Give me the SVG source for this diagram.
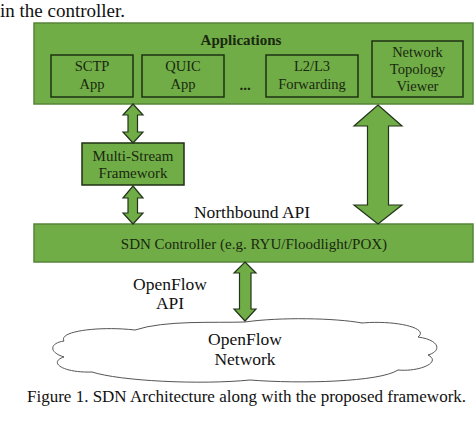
<svg xmlns="http://www.w3.org/2000/svg" width="474" height="424" viewBox="0 0 474 424">
<style>
  text { font-family: "Liberation Serif", "DejaVu Serif", serif; fill: #111; }
  .big { fill: #70ad47; stroke: #55843a; stroke-width: 1.5; }
  .box { fill: #70ad47; stroke: #1e3113; stroke-width: 1.5; }
  .arrow { fill: #70ad47; stroke: #22351a; stroke-width: 1.2; stroke-linejoin: miter; }
  .lbl { font-size: 14.5px; text-anchor: middle; fill: #1a2810; }
  .ext { font-size: 17.5px; text-anchor: middle; }
  .cloud { fill: #ffffff; stroke: #555; stroke-width: 1; }
</style>
<rect width="474" height="424" fill="#ffffff"/>

<g font-family="Liberation Serif, DejaVu Serif, serif">
<text x="0" y="17" style="font-size:19px">in the controller.</text>

<g id="applications">
  <rect class="big" x="34" y="23" width="439" height="81"/>
  <text x="241" y="45" style="font-size:15px;font-weight:bold;text-anchor:middle;fill:#1a2810">Applications</text>
  <text x="245" y="90" style="font-size:15px;font-weight:bold;text-anchor:middle;fill:#1a2810">...</text>
</g>
<g id="sctp-app">
  <rect class="box" x="51" y="55" width="82" height="42"/>
  <text class="lbl" x="92" y="71">SCTP</text>
  <text class="lbl" x="92" y="89">App</text>
</g>
<g id="quic-app">
  <rect class="box" x="142" y="55" width="82" height="42"/>
  <text class="lbl" x="183" y="71">QUIC</text>
  <text class="lbl" x="183" y="89">App</text>
</g>
<g id="l2l3-forwarding">
  <rect class="box" x="266" y="55" width="92" height="42"/>
  <text class="lbl" x="312" y="71">L2/L3</text>
  <text class="lbl" x="312" y="89">Forwarding</text>
</g>
<g id="network-topology-viewer">
  <rect class="box" x="372" y="41" width="91" height="56"/>
  <text class="lbl" x="417.5" y="57">Network</text>
  <text class="lbl" x="417.5" y="74">Topology</text>
  <text class="lbl" x="417.5" y="91">Viewer</text>
</g>
<g id="multi-stream-framework">
  <rect class="box" x="82" y="143" width="102" height="42"/>
  <text class="lbl" x="133" y="160.5" style="font-size:15px">Multi-Stream</text>
  <text class="lbl" x="133" y="178" style="font-size:15px">Framework</text>
</g>
<g id="sdn-controller">
  <rect class="big" x="34" y="224" width="439" height="38"/>
  <text x="254" y="249" style="font-size:15px;text-anchor:middle;fill:#1a2810">SDN Controller (e.g. RYU/Floodlight/POX)</text>
</g>
<g id="openflow-network">
  <path class="cloud" d="M 64,341 C 58,331 100,326 135,330 C 165,320 215,323 245,322 C 280,317 335,318 362,323 C 395,320 430,328 418,337 C 440,340 442,351 428,355 C 442,362 420,372 398,370 C 380,382 300,384 250,380 C 200,385 120,381 92,372 C 62,373 48,362 64,357 C 48,352 50,343 64,341 Z"/>
  <text class="ext" x="245" y="345">OpenFlow</text>
  <text class="ext" x="245" y="365">Network</text>
</g>

<g id="connectors">
  <polygon class="arrow" points="133,104 143,115 137.5,115 137.5,132 143,132 133,143 123,132 128,132 128,115 123,115"/>
  <polygon class="arrow" points="133,186 143,198 137.5,198 137.5,213 143,213 133,224 123,213 128,213 128,198 123,198"/>
  <polygon class="arrow" points="378,105 402,126 388.5,126 388.5,205 402,205 378,224 354,205 367.5,205 367.5,126 354,126"/>
  <polygon class="arrow" points="245,262 256,273 251,273 251,309 256,309 245,321 234,309 239.5,309 239.5,273 234,273"/>
  <text class="ext" x="252" y="218">Northbound API</text>
  <text class="ext" x="170" y="290">OpenFlow</text>
  <text class="ext" x="170" y="309">API</text>
</g>

<text x="27" y="402" style="font-size:17px">Figure 1. SDN Architecture along with the proposed framework.</text>
</g>
</svg>
